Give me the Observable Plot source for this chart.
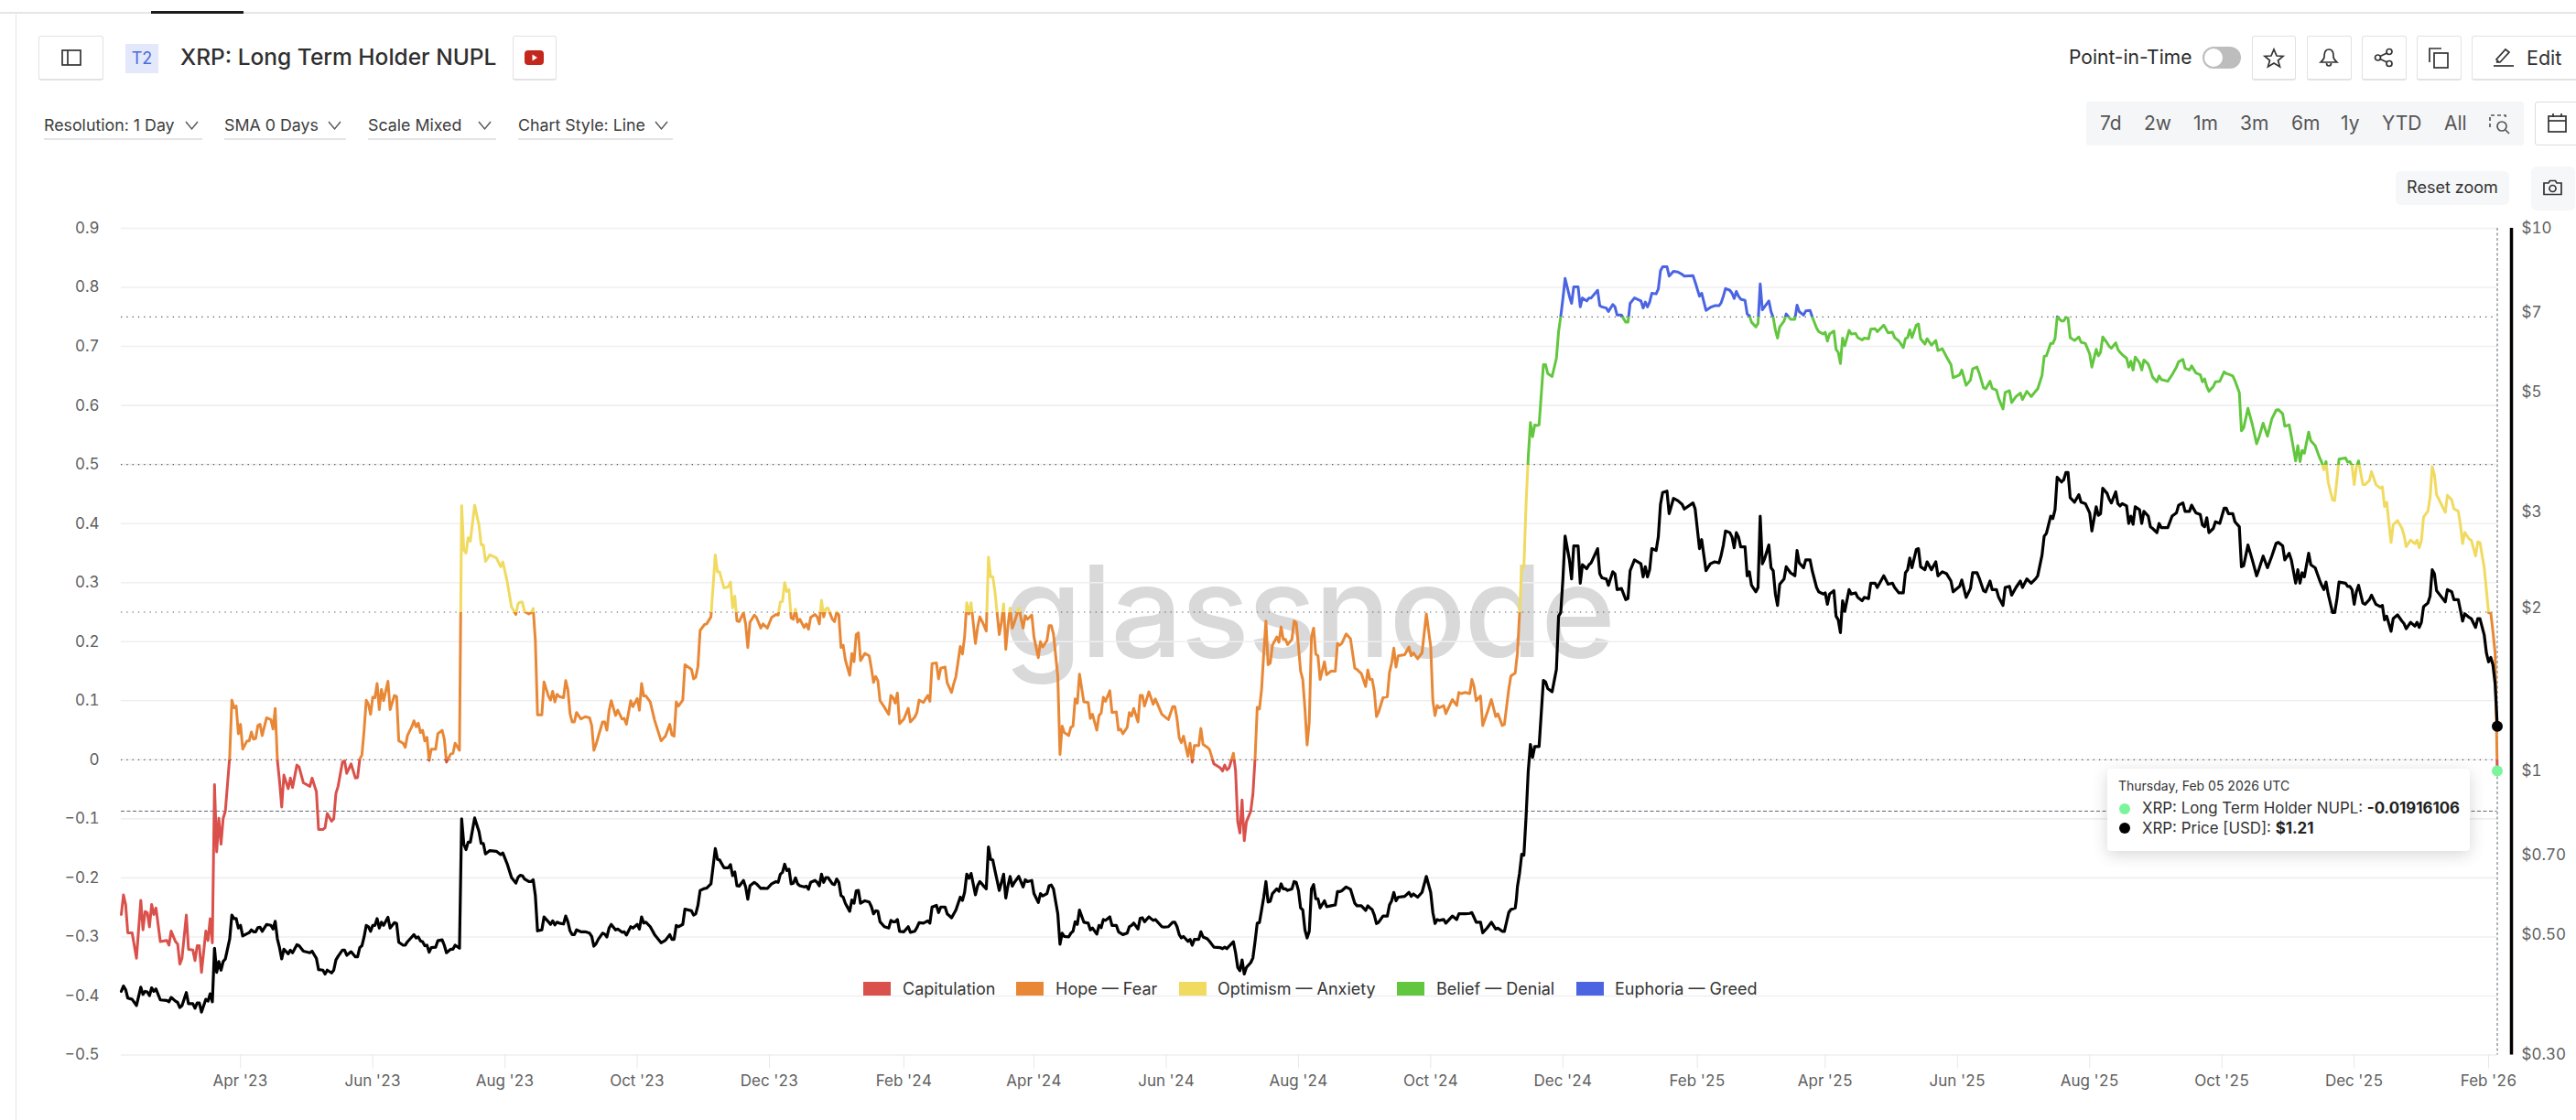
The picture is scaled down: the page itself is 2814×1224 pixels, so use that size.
<!DOCTYPE html>
<html>
<head>
<meta charset="utf-8">
<script src="https://cdn.jsdelivr.net/npm/d3@7"></script>
<script src="https://cdn.jsdelivr.net/npm/@observablehq/plot@0.6"></script>
<style>
html,body{margin:0;padding:0;background:#fff;}
body{width:2814px;height:1224px;position:relative;overflow:hidden;font-family:Inter,"Noto Sans",sans-serif;color:#333;}
.a{position:absolute;white-space:nowrap;}
.btn{position:absolute;top:39px;height:46px;border:1px solid #e2e2e4;border-bottom:2px solid #e2e2e4;border-radius:3px;background:#fff;box-sizing:content-box;}
.dd{position:absolute;top:124px;height:27px;line-height:26px;font-size:17.8px;color:#3c3c3c;border-bottom:2px solid #e4e4e6;white-space:nowrap;}
.rng{position:absolute;top:122px;line-height:26px;font-size:21px;color:#555;}
.chev{position:absolute;top:8px;}
.leg{position:absolute;top:1071px;height:20px;line-height:20px;font-size:18px;color:#333;white-space:nowrap;}
.sw{position:absolute;top:1073px;width:30px;height:15px;}
svg.ic{position:absolute;overflow:visible;fill:none;stroke:#333;stroke-width:1.7;}
#chart{position:absolute;left:0;top:230px;}
</style>
</head>
<body>
<div class="a" style="left:0;top:13px;width:2814px;height:2px;background:#e6e6e6"></div>
<div class="a" style="left:165px;top:12px;width:101px;height:3px;background:#1c1c1c"></div>
<div class="a" style="left:17px;top:15px;width:1px;height:1209px;background:#e6e6e8"></div>

<div class="btn" style="left:42px;width:69px"></div>
<svg class="ic" style="left:67px;top:54px" width="22" height="18"><rect x="1" y="1" width="20" height="16"/><line x1="7" y1="1" x2="7" y2="17"/></svg>
<div class="a" style="left:137px;top:48px;width:36px;height:32px;background:#E3E8FA;color:#4D6BDD;font-size:18px;line-height:32px;text-align:center">T2</div>
<div class="a" style="left:197px;top:46px;line-height:32px;font-size:24.5px;font-weight:500;color:#2f2f2f">XRP: Long Term Holder NUPL</div>
<div class="btn" style="left:560px;width:46px"></div>
<svg class="ic" style="left:573px;top:55px;stroke:none" width="21" height="16"><rect width="21" height="16" rx="4" fill="#C4271B"/><path d="M8.5 4.5L14 8L8.5 11.5Z" fill="#fff"/></svg>

<div class="dd" style="left:48px;width:173px">Resolution: 1 Day<svg class="ic chev" style="left:154px" width="15" height="10"><path d="M1 1L7.5 9L14 1" stroke="#555" stroke-width="1.4"/></svg></div>
<div class="dd" style="left:245px;width:133px">SMA 0 Days<svg class="ic chev" style="left:113px" width="15" height="10"><path d="M1 1L7.5 9L14 1" stroke="#555" stroke-width="1.4"/></svg></div>
<div class="dd" style="left:402px;width:140px">Scale Mixed<svg class="ic chev" style="left:120px" width="15" height="10"><path d="M1 1L7.5 9L14 1" stroke="#555" stroke-width="1.4"/></svg></div>
<div class="dd" style="left:566px;width:169px">Chart Style: Line<svg class="ic chev" style="left:149px" width="15" height="10"><path d="M1 1L7.5 9L14 1" stroke="#555" stroke-width="1.4"/></svg></div>

<div class="a" style="left:2260px;top:50px;line-height:26px;font-size:21px;color:#2a2a2a">Point-in-Time</div>
<div class="a" style="left:2406px;top:51px;width:42px;height:24px;border-radius:12px;background:#bdbdbd"></div>
<div class="a" style="left:2408px;top:53px;width:20px;height:20px;border-radius:10px;background:#fff"></div>
<div class="btn" style="left:2460px;width:46px"></div>
<svg class="ic" style="left:2473px;top:53px" width="22" height="21"><path d="M11 1L14 8L21 8.5L15.5 13L17.5 20L11 16L4.5 20L6.5 13L1 8.5L8 8Z"/></svg>
<div class="btn" style="left:2520px;width:47px"></div>
<svg class="ic" style="left:2534px;top:52px" width="20" height="22"><path d="M10 2C5 2 5 7 5 10C5 13 2 15 1 16H19C18 15 15 13 15 10C15 7 15 2 10 2Z"/><path d="M7.5 17C7.5 21 12.5 21 12.5 17"/></svg>
<div class="btn" style="left:2580px;width:47px"></div>
<svg class="ic" style="left:2594px;top:53px" width="20" height="20"><circle cx="3.5" cy="10" r="3"/><circle cx="16" cy="3.5" r="3"/><circle cx="16" cy="16.5" r="3"/><path d="M6 8.5L13.5 5M6 11.5L13.5 15"/></svg>
<div class="btn" style="left:2640px;width:47px"></div>
<svg class="ic" style="left:2653px;top:52px" width="22" height="22"><rect x="6" y="6" width="15" height="16"/><path d="M1 16V1H14"/></svg>
<div class="btn" style="left:2700px;width:130px"></div>
<svg class="ic" style="left:2724px;top:52px" width="22" height="21"><path d="M5 15L3 13L13 2L17 5L7 16L3 16Z"/><line x1="0" y1="20" x2="22" y2="20"/></svg>
<div class="a" style="left:2760px;top:50px;line-height:26px;font-size:21.5px;color:#333">Edit</div>

<div class="a" style="left:2279px;top:111px;width:478px;height:48px;background:#F5F6F8;border-radius:3px"></div>
<div class="rng" style="left:2294px">7d</div>
<div class="rng" style="left:2342px">2w</div>
<div class="rng" style="left:2396px">1m</div>
<div class="rng" style="left:2447px">3m</div>
<div class="rng" style="left:2503px">6m</div>
<div class="rng" style="left:2557px">1y</div>
<div class="rng" style="left:2602px">YTD</div>
<div class="rng" style="left:2670px">All</div>
<svg class="ic" style="left:2719px;top:125px;stroke:#555" width="23" height="21"><path d="M1 14V1H18V5" stroke-dasharray="4 3"/><circle cx="14" cy="13" r="5"/><line x1="18" y1="17" x2="22" y2="21"/></svg>
<div class="a" style="left:2769px;top:111px;width:60px;height:46px;border:1px solid #dcdcde;border-radius:3px"></div>
<svg class="ic" style="left:2783px;top:124px" width="21" height="21"><rect x="1" y="3" width="19" height="17"/><line x1="1" y1="8" x2="20" y2="8"/><line x1="6" y1="0" x2="6" y2="4"/><line x1="15" y1="0" x2="15" y2="4"/></svg>
<div class="a" style="left:2617px;top:187px;width:124px;height:37px;line-height:36px;text-align:center;font-size:18px;color:#333;background:#F6F7F9;border-radius:6px">Reset zoom</div>
<div class="a" style="left:2765px;top:182px;width:48px;height:48px;background:#F6F7F9;border-radius:6px"></div>
<svg class="ic" style="left:2778px;top:197px" width="21" height="16"><path d="M1 3H6L7.5 0.5H13.5L15 3H20V15.5H1Z"/><circle cx="10.5" cy="9" r="3.5"/></svg>

<div class="a" id="wm" style="left:1096px;top:568px;font-size:139px;line-height:200px;font-weight:500;letter-spacing:-2px;color:#d9d9d9">glassnode</div>
<div id="chart"></div>

<div class="sw" style="left:943px;background:#DA504B"></div><div class="leg" style="left:986px">Capitulation</div>
<div class="sw" style="left:1110px;background:#E88836"></div><div class="leg" style="left:1153px">Hope — Fear</div>
<div class="sw" style="left:1288px;background:#F0DA5F"></div><div class="leg" style="left:1330px">Optimism — Anxiety</div>
<div class="sw" style="left:1526px;background:#62C73E"></div><div class="leg" style="left:1569px">Belief — Denial</div>
<div class="sw" style="left:1722px;background:#4A64E2"></div><div class="leg" style="left:1764px">Euphoria — Greed</div>

<div class="a" style="left:2302px;top:840px;width:396px;height:90px;background:#fff;border-radius:4px;box-shadow:0 4px 18px rgba(0,0,0,.16)"></div>
<div class="a" style="left:2314px;top:850px;line-height:18px;font-size:14px;color:#333">Thursday, Feb 05 2026 UTC</div>
<div class="a" style="left:2315px;top:878px;width:12px;height:12px;border-radius:6px;background:#7BF59B"></div>
<div class="a" style="left:2340px;top:874px;line-height:19px;font-size:16.85px;color:#333">XRP: Long Term Holder NUPL: <b style="color:#222">-0.01916106</b></div>
<div class="a" style="left:2315px;top:899px;width:12px;height:12px;border-radius:6px;background:#000"></div>
<div class="a" style="left:2340px;top:896px;line-height:19px;font-size:16.85px;color:#333">XRP: Price [USD]: <b style="color:#222">$1.21</b></div>

<script>
const startDate = new Date("2023-02-05T00:00:00Z");
const endDate = new Date("2026-02-05T00:00:00Z");

const days1 = [0,1,2,3,5,7,9,10,11,12,13,14,15,16,18,21,22,23,25,26,27,28,30,31,33,34,35,36,37,39,40,41,42,43,44,45,46,47,48,50,51,52,53,54,55,56,58,59,60,61,62,63,64,65,67,69,70,71,72,73,74,75,77,78,79,81,82,84,87,88,90,91,93,94,95,97,98,99,100,102,103,104,106,108,109,110,111,112,113,114,115,116,117,118,119,120,121,123,124,126,127,128,130,131,132,134,135,136,137,138,139,140,141,142,143,145,146,148,149,150,152,153,154,156,157,158,159,160,161,163,165,166,167,168,170,173,175,176,178,180,182,183];
const nupl1 = [-.262,-.229,-.245,-.293,-.293,-.336,-.238,-.288,-.257,-.259,-.283,-.245,-.262,-.251,-.308,-.306,-.314,-.290,-.308,-.312,-.346,-.336,-.263,-.321,-.322,-.340,-.315,-.315,-.360,-.290,-.306,-.269,-.310,-.042,-.156,-.099,-.143,-.099,-.087,.005,.101,.088,.091,.044,.060,.018,.032,.032,.047,.035,.036,.058,.060,.041,.071,.068,.052,.087,-.001,-.036,-.080,-.026,-.049,-.031,-.047,-.009,-.012,-.039,-.045,-.031,-.054,-.118,-.118,-.115,-.091,-.104,-.100,-.057,-.045,-.004,-.002,-.023,-.007,-.031,-.030,.001,.008,.050,.101,.094,.077,.106,.105,.129,.085,.119,.100,.133,.085,.109,.107,.032,.028,.021,.041,.056,.066,.056,.062,.046,.050,.032,.038,-.001,.018,.018,.044,.050,.035,-.004,.010,.011,.028,.016,.430,.355,.350,.376,.370,.431,.397,.364,.364,.336,.347,.342,.327,.335,.302,.259,.246,.264];
const price1 = [.393,.402,.396,.382,.380,.370,.400,.388,.393,.392,.386,.399,.393,.397,.379,.378,.376,.383,.377,.375,.367,.370,.391,.373,.373,.366,.374,.374,.360,.380,.377,.389,.376,.472,.426,.446,.430,.446,.451,.491,.543,.535,.535,.514,.520,.497,.502,.504,.510,.506,.506,.515,.516,.507,.522,.520,.512,.529,.491,.473,.451,.470,.461,.468,.463,.479,.477,.466,.463,.466,.452,.431,.430,.423,.430,.425,.430,.449,.456,.468,.468,.458,.465,.455,.455,.473,.477,.495,.520,.517,.507,.520,.520,.535,.514,.527,.520,.538,.514,.526,.524,.484,.478,.478,.485,.495,.500,.493,.495,.487,.485,.477,.478,.464,.473,.474,.487,.489,.478,.463,.470,.470,.478,.472,.817,.734,.717,.740,.740,.820,.774,.736,.736,.704,.714,.712,.702,.707,.675,.637,.622,.637];

const days2 = [184,185,186,188,189,190,191,192,194,195,197,198,199,200,201,202,204,205,206,207,208,209,210,212,214,216,217,218,219,220,222,223,224,225,226,228,229,231,232,233,235,236,238,239,240,241,242,244,246,249,251,253,254,255,256,257,259,260,263,264,265,266,267,269,270,272,274,275,276,278,280,281,282,283,284,285,287,288,289,290,292,293,295,296,298,300,302,303,304,305,306,307,308,309,310,311,312,313,315,316,317,318,320,321,322,323,324,325,326,328,329,330,331,332,333,334,336,337,338,339,340,341,343,345,346,347,348,349,350,352,354,355,356,357,358,359,361,363,364,366];
const nupl2 = [.267,.267,.251,.247,.249,.256,.202,.076,.076,.132,.108,.101,.116,.098,.111,.107,.105,.134,.119,.078,.064,.064,.080,.069,.073,.071,.058,.016,.026,.039,.064,.064,.050,.083,.100,.075,.084,.069,.070,.060,.100,.090,.104,.084,.129,.108,.108,.098,.067,.032,.040,.060,.042,.040,.098,.091,.101,.161,.153,.137,.140,.158,.219,.229,.230,.242,.347,.318,.318,.291,.293,.301,.257,.277,.235,.234,.249,.230,.190,.233,.245,.241,.223,.230,.223,.241,.246,.245,.267,.268,.300,.285,.288,.240,.238,.255,.233,.238,.224,.230,.221,.241,.246,.242,.230,.270,.242,.256,.257,.238,.234,.250,.245,.190,.194,.169,.143,.180,.166,.212,.215,.168,.180,.176,.155,.131,.141,.134,.100,.089,.077,.109,.105,.096,.113,.061,.069,.087,.064,.072];
const price2 = [.643,.642,.633,.626,.626,.631,.590,.508,.510,.539,.528,.522,.530,.521,.527,.525,.523,.541,.528,.508,.500,.500,.510,.506,.506,.503,.496,.476,.481,.490,.503,.501,.495,.514,.522,.510,.512,.505,.506,.499,.517,.514,.522,.512,.539,.525,.527,.517,.500,.483,.488,.500,.490,.490,.520,.517,.522,.557,.553,.543,.546,.566,.603,.608,.609,.620,.720,.688,.686,.664,.664,.673,.642,.652,.615,.614,.629,.612,.581,.615,.624,.620,.608,.609,.608,.620,.626,.624,.646,.651,.674,.656,.660,.620,.622,.636,.620,.615,.612,.614,.606,.624,.629,.624,.615,.646,.624,.637,.637,.620,.618,.633,.624,.590,.586,.571,.552,.579,.571,.602,.603,.571,.577,.574,.563,.546,.553,.552,.528,.517,.514,.531,.528,.528,.533,.507,.506,.517,.505,.507];

const days3 = [367,368,370,372,373,374,376,377,378,380,381,383,384,385,387,388,389,390,391,392,394,395,396,397,398,399,400,401,402,403,405,406,407,408,409,410,411,412,414,416,417,418,420,421,423,424,425,427,428,429,430,432,433,434,435,437,438,439,440,441,442,444,446,447,448,450,451,452,453,454,456,457,459,460,461,462,464,465,466,467,469,470,471,472,474,476,477,480,481,483,485,486,487,488,489,490,492,493,494,495,497,498,499,501,502,504,507,508,509,510,511,513,514,515,516,517,518,519,521,522,523,524,525,526,527,528,529,530,531,533,534,535,536,537,538,540,541,542,543,544,545,546,547,548,549];
const nupl3 = [.080,.101,.097,.109,.099,.163,.164,.137,.155,.157,.130,.114,.129,.141,.192,.179,.208,.266,.247,.266,.197,.224,.242,.235,.227,.218,.343,.310,.310,.285,.212,.233,.264,.187,.227,.257,.223,.233,.257,.223,.244,.238,.245,.208,.173,.200,.191,.202,.227,.227,.213,.141,.009,.057,.046,.041,.055,.057,.103,.096,.145,.098,.097,.070,.077,.050,.075,.079,.106,.099,.117,.080,.081,.050,.052,.044,.055,.080,.074,.087,.064,.109,.109,.091,.115,.094,.103,.077,.074,.068,.090,.090,.069,.037,.029,.040,.006,.028,-.004,.024,.024,.053,.026,.021,.017,-.007,-.014,-.019,-.009,-.017,-.014,.011,-.019,-.105,-.124,-.068,-.137,-.105,-.087,-.058,.003,.089,.086,.119,.180,.235,.161,.164,.194,.208,.199,.225,.204,.204,.195,.204,.235,.232,.193,.150,.136,.086,.025,.064,.208];
const price3 = [.515,.526,.525,.530,.525,.562,.566,.549,.562,.562,.546,.537,.546,.555,.586,.578,.598,.646,.635,.648,.592,.615,.626,.620,.613,.607,.725,.688,.686,.656,.603,.624,.646,.584,.615,.640,.614,.624,.640,.612,.631,.626,.629,.595,.573,.595,.589,.595,.615,.617,.607,.546,.480,.503,.496,.495,.503,.507,.528,.522,.555,.527,.525,.510,.514,.501,.520,.515,.533,.531,.539,.520,.520,.506,.503,.500,.503,.517,.520,.525,.512,.536,.537,.528,.539,.531,.533,.517,.516,.517,.527,.527,.517,.500,.493,.496,.486,.490,.478,.490,.490,.506,.495,.491,.486,.474,.473,.471,.474,.471,.476,.485,.463,.435,.429,.449,.423,.435,.444,.453,.486,.525,.526,.555,.586,.626,.574,.576,.595,.607,.601,.620,.607,.607,.603,.607,.626,.624,.603,.560,.555,.510,.493,.507,.607];

const days4 = [550,551,552,553,555,556,558,560,561,562,563,565,567,569,570,572,574,575,576,577,578,579,580,582,584,585,586,587,588,589,592,594,595,596,598,600,602,604,605,606,607,608,610,611,614,616,617,618,620,622,623,624,625,627,628,630,632,634,635,637,638,640,641,643,643.5,644,645,646,647,648,649,650,651,652,653,654,656,657,658,660,662,663,664,665,666,668,669,670,672,673,674,676,677,678,681,682,683,685,686,688,689,690,692,694,695,696,698,701,702,703,704,705,706,708,709,710,711,713,714,716,718,720,721,725,726,728,729,731];
const nupl4 = [.223,.179,.176,.136,.166,.144,.150,.150,.197,.194,.197,.213,.205,.155,.153,.146,.124,.152,.136,.136,.116,.073,.081,.105,.107,.148,.164,.189,.157,.176,.178,.191,.176,.181,.171,.181,.247,.192,.100,.075,.092,.088,.092,.078,.102,.092,.114,.112,.114,.112,.136,.124,.100,.108,.058,.079,.102,.073,.078,.058,.060,.119,.142,.147,.164,.180,.248,.327,.327,.433,.512,.571,.547,.567,.566,.567,.669,.669,.654,.649,.680,.725,.751,.781,.815,.785,.773,.801,.801,.767,.782,.777,.782,.782,.795,.769,.767,.765,.759,.771,.767,.753,.753,.741,.741,.773,.782,.777,.765,.775,.767,.775,.790,.789,.797,.828,.835,.835,.819,.827,.826,.822,.819,.820,.809,.785,.790,.761];
const price4 = [.618,.582,.582,.560,.577,.563,.565,.567,.600,.600,.602,.612,.606,.571,.565,.565,.554,.565,.560,.556,.543,.524,.527,.541,.541,.567,.577,.598,.577,.586,.588,.598,.588,.594,.586,.598,.640,.598,.549,.524,.533,.531,.533,.525,.541,.533,.546,.546,.546,.547,.549,.538,.527,.527,.504,.514,.527,.512,.514,.507,.507,.549,.556,.560,.579,.612,.649,.703,.700,.824,1.00,1.12,1.06,1.11,1.11,1.11,1.47,1.46,1.42,1.40,1.54,1.93,1.96,2.26,2.71,2.45,2.26,2.60,2.60,2.22,2.40,2.36,2.40,2.42,2.57,2.31,2.27,2.26,2.20,2.33,2.31,2.16,2.17,2.07,2.08,2.34,2.45,2.41,2.28,2.38,2.28,2.35,2.57,2.55,2.70,3.10,3.26,3.28,2.98,3.18,3.15,3.10,3.04,3.12,3.04,2.57,2.67,2.34];

const days5 = [733,735,737,738,739,740,742,743,744,745,746,747,749,750,751,752,754,755,756,757,758,760,761,762,763,764,765,767,768,770,772,773,774,776,777,779,780,782,783,785,786,787,788,790,791,792,793,794,795,797,798,800,801,803,804,806,807,809,810,813,815,817,818,820,822,823,824,825,826,828,829,830,832,833,835,837,838,840,842,844,845,848,849,851,853,854,856,857,859,860,862,863,865,866,868,869,871,872,874,876,877,879,881,883,884,886,887,888,890,891,892,893,895,896,897,898,899,901,903,904,906,908,909,911,912,913,914];
const nupl5 = [.766,.769,.769,.774,.785,.798,.795,.790,.781,.793,.785,.780,.778,.755,.752,.741,.733,.739,.806,.762,.767,.777,.759,.749,.728,.714,.733,.743,.755,.746,.746,.770,.759,.753,.760,.761,.750,.731,.725,.721,.724,.709,.721,.726,.695,.690,.671,.714,.701,.727,.721,.722,.715,.711,.714,.713,.729,.730,.725,.736,.723,.724,.715,.709,.698,.713,.715,.728,.715,.736,.738,.713,.704,.713,.702,.710,.693,.696,.682,.669,.647,.652,.660,.634,.643,.662,.665,.655,.630,.628,.641,.629,.626,.612,.594,.622,.625,.605,.615,.621,.610,.624,.615,.624,.628,.651,.683,.684,.705,.705,.713,.750,.743,.743,.749,.748,.715,.710,.716,.707,.705,.687,.665,.695,.684,.690,.716];
const price5 = [2.41,2.43,2.42,2.50,2.61,2.77,2.75,2.70,2.58,2.75,2.70,2.59,2.59,2.29,2.33,2.20,2.14,2.18,2.95,2.41,2.46,2.61,2.37,2.34,2.12,2.02,2.21,2.26,2.38,2.32,2.29,2.55,2.42,2.37,2.45,2.45,2.34,2.18,2.14,2.12,2.13,2.03,2.12,2.15,1.93,1.90,1.80,2.06,1.97,2.16,2.12,2.13,2.09,2.06,2.09,2.08,2.22,2.22,2.18,2.29,2.21,2.22,2.18,2.13,2.13,2.32,2.35,2.47,2.37,2.56,2.57,2.38,2.35,2.43,2.35,2.43,2.29,2.33,2.31,2.24,2.14,2.19,2.25,2.09,2.17,2.32,2.32,2.27,2.15,2.14,2.24,2.16,2.16,2.09,2.02,2.18,2.19,2.11,2.18,2.24,2.18,2.26,2.22,2.26,2.29,2.50,2.71,2.74,2.95,2.92,3.03,3.48,3.41,3.44,3.55,3.55,3.19,3.13,3.23,3.13,3.11,2.99,2.77,3.07,2.96,2.98,3.32];

const days6 = [916,917,918,920,921,922,923,925,926,927,928,929,931,932,933,935,936,937,939,940,941,944,946,948,949,951,952,954,955,957,959,960,961,962,963,965,966,968,970,971,972,974,975,977,978,979,981,983,985,986,988,990,992,994,995,997,998,1000,1001,1003,1004,1005,1006,1007,1009,1010,1012,1014,1015,1016,1017,1018,1020,1021,1022,1023,1026,1027,1028,1029,1030,1031,1032,1034,1035,1037,1038,1040,1042,1043,1044,1045,1047,1048,1050,1052,1053,1054,1056,1058,1059,1060,1061,1062,1064,1065,1066,1067,1068,1070,1072,1073,1075,1076,1078,1079,1080,1081,1083,1084,1086,1087,1088,1090,1091,1092,1093,1094,1095,1096];
const nupl6 = [.706,.700,.697,.706,.695,.690,.686,.680,.665,.675,.660,.682,.672,.660,.677,.670,.660,.648,.640,.650,.644,.641,.652,.665,.674,.678,.663,.660,.667,.655,.652,.640,.645,.632,.624,.632,.640,.641,.657,.654,.653,.650,.642,.622,.557,.562,.595,.568,.535,.545,.570,.548,.577,.592,.593,.586,.565,.567,.548,.506,.532,.505,.524,.519,.555,.540,.532,.512,.504,.491,.505,.470,.440,.439,.473,.509,.511,.504,.505,.498,.466,.496,.506,.466,.466,.473,.488,.466,.460,.462,.429,.436,.368,.398,.405,.392,.380,.361,.372,.366,.372,.359,.371,.411,.421,.444,.496,.483,.449,.434,.419,.448,.440,.425,.421,.398,.366,.385,.374,.372,.345,.369,.368,.325,.287,.249,.249,.217,.181,-.019];
const price6 = [3.25,3.17,3.12,3.27,3.11,3.08,3.11,3.08,2.86,2.95,2.85,3.07,3.03,2.86,3.01,2.95,2.82,2.80,2.75,2.86,2.81,2.81,2.95,2.99,3.09,3.12,3.01,3.01,3.09,2.99,2.97,2.84,2.82,2.93,2.75,2.80,2.88,2.86,3.05,3.05,2.98,2.98,2.88,2.82,2.38,2.39,2.61,2.45,2.29,2.35,2.49,2.37,2.49,2.63,2.64,2.60,2.45,2.52,2.45,2.22,2.35,2.22,2.32,2.28,2.52,2.40,2.37,2.25,2.20,2.16,2.23,2.12,1.96,1.96,2.07,2.23,2.22,2.19,2.19,2.16,2.03,2.14,2.20,2.04,2.03,2.07,2.11,2.03,2.01,2.02,1.90,1.93,1.81,1.91,1.94,1.89,1.87,1.83,1.88,1.85,1.88,1.84,1.88,2.01,2.04,2.10,2.35,2.31,2.15,2.10,2.05,2.16,2.14,2.07,2.07,1.98,1.89,1.95,1.92,1.91,1.84,1.91,1.91,1.78,1.65,1.59,1.62,1.57,1.45,1.21];

const yTicks = [-0.5,-0.4,-0.3,-0.2,-0.1,0,0.1,0.2,0.3,0.4,0.5,0.6,0.7,0.8,0.9];
const dottedLevels = [0,0.25,0.5,0.75];
const dashedLevel = -0.087;
const priceTicks = [0.3,0.5,0.7,1,2,3,5,7,10];
const priceLabels = ["$0.30","$0.50","$0.70","$1","$2","$3","$5","$7","$10"];
const xTickDates = ["2023-04-01","2023-06-01","2023-08-01","2023-10-01","2023-12-01","2024-02-01","2024-04-01","2024-06-01","2024-08-01","2024-10-01","2024-12-01","2025-02-01","2025-04-01","2025-06-01","2025-08-01","2025-10-01","2025-12-01","2026-02-01"].map(d => new Date(d + "T00:00:00Z"));
const bands = [[-0.5,0,"#DA504B"],[0,0.25,"#E88836"],[0.25,0.5,"#F0DA5F"],[0.5,0.75,"#62C73E"],[0.75,0.9,"#4A64E2"]];

const groups = [[days1,nupl1,price1],[days2,nupl2,price2],[days3,nupl3,price3],[days4,nupl4,price4],[days5,nupl5,price5],[days6,nupl6,price6]];
groups.forEach((g,i) => { if (g[0].length !== g[1].length || g[0].length !== g[2].length) throw new Error("group " + (i+1) + " lengths " + g.map(a => a.length)); });
const rows = groups.flatMap(([D,N,P]) => D.map((d,i) => ({date:new Date(+startDate + d*864e5), nupl:N[i], price:P[i]})));
const last = rows[rows.length-1];

const priceToY = d3.scaleLog().domain([0.3,10]).range([-0.5,0.9]);

const gradient = (index, scales) => {
  const defs = d3.create("svg:defs");
  const g = defs.append("linearGradient").attr("id","nuplBands").attr("gradientUnits","userSpaceOnUse")
    .attr("x1",0).attr("x2",0).attr("y1",scales.y(-0.5)).attr("y2",scales.y(0.9));
  bands.forEach(([lo,hi,c]) => {
    g.append("stop").attr("offset",(lo+0.5)/1.4).attr("stop-color",c);
    g.append("stop").attr("offset",(hi+0.5)/1.4).attr("stop-color",c);
  });
  return defs.node();
};

const chart = Plot.plot({
  width:2814, height:994,
  marginLeft:132, marginRight:86.5, marginTop:19, marginBottom:71.5,
  style:{background:"transparent", fontFamily:"Inter", fontSize:"17px", overflow:"visible"},
  x:{type:"utc", domain:[startDate,endDate]},
  y:{domain:[-0.5,0.9]},
  marks:[
    gradient,
    Plot.ruleY(yTicks,{stroke:"#efeff1",strokeWidth:1.6}),
    Plot.ruleY(dottedLevels,{stroke:"#555",strokeWidth:1.2,strokeDasharray:"1.3,5"}),
    Plot.ruleY([dashedLevel],{stroke:"#5d6873",strokeWidth:1,strokeDasharray:"4,2.5"}),
    Plot.ruleX([endDate],{stroke:"#5d6873",strokeWidth:1,strokeDasharray:"3,2.5"}),
    Plot.ruleX([endDate],{dx:15.5,stroke:"#000",strokeWidth:3.5}),
    Plot.axisY(yTicks,{anchor:"left",tickSize:0,tickPadding:24,label:null,fill:"#5f5f5f",tickFormat:d3.format(".1~f")}),
    Plot.axisY(priceTicks.map(p => priceToY(p)),{anchor:"right",tickSize:0,tickPadding:26.5,label:null,fill:"#5f5f5f",tickFormat:(d,i) => priceLabels[i]}),
    Plot.axisX(xTickDates,{anchor:"bottom",tickSize:15,tickPadding:7,label:null,stroke:"#e8e8ea",fill:"#5f5f5f",tickFormat:d3.utcFormat("%b '%y")}),
    Plot.line(rows,{x:"date",y:"nupl",stroke:"url(#nuplBands)",strokeWidth:3,strokeLinejoin:"round"}),
    Plot.line(rows,{x:"date",y:d => priceToY(d.price),stroke:"#000",strokeWidth:3.2,strokeLinejoin:"round"}),
    Plot.dot([last],{x:"date",y:"nupl",r:6,fill:"#7BF59B"}),
    Plot.dot([last],{x:"date",y:d => priceToY(d.price),r:6,fill:"#000"})
  ]
});
document.getElementById("chart").appendChild(chart);
</script>
</body>
</html>
